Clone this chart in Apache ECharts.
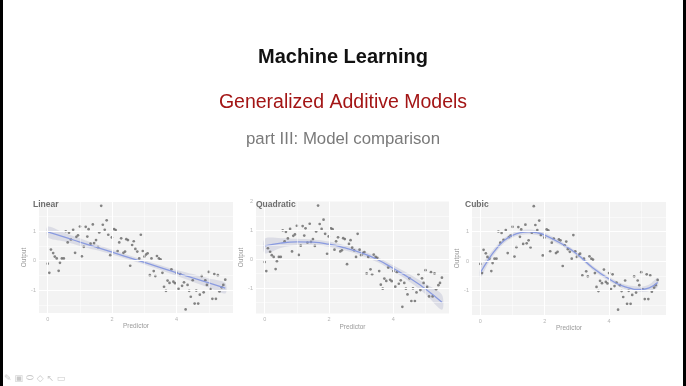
<!DOCTYPE html>
<html>
<head>
<meta charset="utf-8">
<script src="https://cdn.jsdelivr.net/npm/echarts@6/dist/echarts.min.js"></script>
<style>html,body{margin:0;padding:0;background:#fff}#c{width:686px;height:386px}</style>
</head>
<body>
<div id="c"></div>
<script>
// ---- data ----
const predictor = [0,0.05,0.10,0.17,0.22,0.28,0.34,0.38,0.44,0.50,0.56,0.62,0.66,0.72,0.79,0.85,0.89,0.94,1.00,1.06,1.12,1.18,1.23,1.27,1.33,1.40,1.44,1.50,1.56,1.60,1.66,1.71,1.77,1.83,1.88,1.94,1.99,2.06,2.11,2.17,2.22,2.28,2.35,2.40,2.44,2.49,2.56,2.62,2.67,2.72,2.78,2.84,2.89,2.95,3.00,3.05,3.10,3.17,3.22,3.29,3.34,3.39,3.45,3.50,3.56,3.61,3.67,3.72,3.78,3.84,3.90,3.95,4.00,4.06,4.11,4.17,4.23,4.28,4.34,4.39,4.44,4.50,4.56,4.61,4.67,4.72,4.78,4.84,4.89,4.94,5.00,5.05,5.11,5.17,5.22,5.28,5.33,5.40,5.45,5.51];
const output = [-0.10,-0.41,0.38,0.26,0.14,0.08,-0.34,-0.07,0.08,0.08,1.00,0.62,0.95,0.72,1.05,0.27,0.81,0.86,1.16,0.15,0.47,1.15,0.82,1.07,0.58,1.23,0.60,0.70,0.46,0.96,1.86,1.22,1.05,1.37,0.88,0.19,0.79,1.07,1.04,0.33,0.62,0.76,0.27,0.31,0.73,0.70,-0.17,0.53,0.66,0.40,0.31,0.08,0.88,0.33,0.14,0.21,0.25,-0.49,0.08,-0.35,-0.52,0.16,0.08,0.05,-0.41,-0.88,-1.02,-0.67,-0.75,-0.29,-0.71,-0.76,-0.41,-0.95,-0.45,-0.85,-0.73,-1.65,-0.82,-1.02,-1.22,-0.66,-1.45,-1.01,-1.45,-1.15,-0.52,-1.07,-0.66,-0.82,-0.38,-0.96,-1.29,-0.45,-1.29,-0.49,-1.04,-0.90,-0.82,-0.64];

const linX   = [0,0.5,1,1.5,2,2.75,3.5,4,4.5,5,5.51];
const linFit = [0.98,0.81,0.63,0.46,0.29,0.03,-0.23,-0.41,-0.58,-0.75,-0.93];
const linLo  = [0.80,0.66,0.50,0.36,0.21,-0.04,-0.31,-0.51,-0.71,-0.91,-1.11];
const linHi  = [1.16,0.96,0.76,0.56,0.37,0.10,-0.15,-0.31,-0.45,-0.60,-0.75];

const quadX   = [0,0.5,1,1.5,2,2.5,3,3.5,4,4.5,5,5.51];
const quadFit = [0.46,0.56,0.60,0.59,0.52,0.39,0.22,-0.01,-0.32,-0.65,-1.03,-1.49];
const quadLo  = [0.21,0.39,0.49,0.50,0.43,0.30,0.13,-0.10,-0.42,-0.78,-1.21,-1.75];
const quadHi  = [0.71,0.73,0.71,0.68,0.61,0.48,0.31,0.08,-0.22,-0.52,-0.85,-1.23];

const cubX   = [0,0.25,0.5,0.75,1,1.25,1.5,1.75,2,2.5,3,3.5,4,4.5,5,5.25,5.51];
const cubFit = [-0.40,0.05,0.42,0.70,0.87,0.96,0.99,0.96,0.88,0.60,0.24,-0.24,-0.61,-0.88,-0.96,-0.91,-0.73];
const cubLo  = [-0.58,-0.08,0.32,0.62,0.79,0.88,0.91,0.88,0.80,0.53,0.17,-0.31,-0.68,-0.96,-1.05,-1.02,-0.88];
const cubHi  = [-0.22,0.18,0.52,0.78,0.95,1.04,1.07,1.04,0.96,0.67,0.31,-0.17,-0.54,-0.80,-0.87,-0.80,-0.58];

const panelTitles = ['Linear','Quadratic','Cubic'];
const xTicks = [0,2,4];
const yTicks = [-1,0,1];
const yTicksQuad = [-1,0,1,2];
const xMinor = [1,3,5];
const yMinor = [-1.5,-0.5,0.5,1.5];

// ---- layout ----
const panels = [
  {left:39,  top:202,   w:194, h:111, xmin:-0.27, xmax:5.75, ymin:-1.77, ymax:1.99, tx:33,  yt:yTicks, nameX:27},
  {left:256, top:201.5, w:193, h:112, xmin:-0.27, xmax:5.73, ymin:-1.88, ymax:2.0,  tx:256, yt:yTicksQuad, nameX:242},
  {left:472, top:202,   w:194, h:113, xmin:-0.26, xmax:5.77, ymin:-1.83, ymax:2.0,  tx:465, yt:yTicks, nameX:460}
];
const fits = [[linX,linFit,linLo,linHi],[quadX,quadFit,quadLo,quadHi],[cubX,cubFit,cubLo,cubHi]];

const chart = echarts.init(document.getElementById('c'), null, {renderer:'canvas'});
const grid=[], xAxis=[], yAxis=[], series=[], title=[];
const tickStyle = {color:'#b5b5b5', fontSize:5.5, fontFamily:'Liberation Sans'};

panels.forEach((p,i)=>{
  grid.push({left:p.left, top:p.top, width:p.w, height:p.h, show:true, backgroundColor:'#f3f3f3', borderWidth:0});
  xAxis.push({type:'value', gridIndex:i, min:p.xmin, max:p.xmax,
    axisLine:{show:false}, axisTick:{show:false}, splitLine:{show:false},
    axisLabel:Object.assign({show:true, margin:3, customValues:xTicks}, tickStyle),
    name:'Predictor', nameLocation:'middle', nameGap:10,
    nameTextStyle:{color:'#9a9a9a', fontSize:6.5, fontFamily:'Liberation Sans'}});
  yAxis.push({type:'value', gridIndex:i, min:p.ymin, max:p.ymax,
    axisLine:{show:false}, axisTick:{show:false}, splitLine:{show:false},
    axisLabel:Object.assign({show:true, margin:3, customValues:p.yt}, tickStyle),
    name:'Output', nameLocation:'middle', nameGap:p.left - p.nameX - 5, nameRotate:90,
    nameTextStyle:{color:'#9a9a9a', fontSize:6.5, fontFamily:'Liberation Sans'}});
  title.push({text:panelTitles[i], left:p.tx, top:200, padding:0,
    textStyle:{color:'#6e6e6e', fontSize:8.5, fontWeight:'bold', fontFamily:'Liberation Sans'}});

  // grid lines
  const ml = [];
  xTicks.forEach(v=>ml.push({xAxis:v, lineStyle:{width:1}}));
  p.yt.filter(v=>v<p.ymax).forEach(v=>ml.push({yAxis:v, lineStyle:{width:1}}));
  xMinor.forEach(v=>ml.push({xAxis:v, lineStyle:{width:0.5}}));
  yMinor.filter(v=>v>p.ymin && v<p.ymax).forEach(v=>ml.push({yAxis:v, lineStyle:{width:0.5}}));
  series.push({type:'line', xAxisIndex:i, yAxisIndex:i, data:[], z:1, silent:true,
    markLine:{silent:true, symbol:'none', label:{show:false}, animation:false,
      lineStyle:{color:'#ffffff', type:'solid'}, data:ml}});

  const [fx,fy,lo,hi] = fits[i];
  // confidence band
  series.push({type:'custom', xAxisIndex:i, yAxisIndex:i, z:2, silent:true, data:[[0,0]],
    renderItem:function(params, api){
      const pts=[];
      for(let k=0;k<fx.length;k++) pts.push(api.coord([fx[k],hi[k]]));
      for(let k=fx.length-1;k>=0;k--) pts.push(api.coord([fx[k],lo[k]]));
      return {type:'polygon', shape:{points:pts, smooth:0.3}, style:{fill:'rgba(195,198,215,0.5)'}};
    }});
  // points
  series.push({type:'scatter', xAxisIndex:i, yAxisIndex:i, z:3, symbolSize:2.7, silent:true,
    itemStyle:{color:'#666666'}, data:predictor.map((x,k)=>[x,output[k]])});
  // fit line
  series.push({type:'line', xAxisIndex:i, yAxisIndex:i, z:4, smooth:true, showSymbol:false, silent:true,
    lineStyle:{color:'#8a9be0', width:1.3}, data:fx.map((x,k)=>[x,fy[k]])});
});

title.push({text:'Machine Learning', left:'center', top:42,
  textStyle:{color:'#111', fontSize:20, fontWeight:'bold', fontFamily:'Liberation Sans'}});
title.push({text:'Generalized Additive Models', left:'center', top:88,
  textStyle:{color:'#a31515', fontSize:19.5, fontWeight:'normal', fontFamily:'Liberation Sans'}});
title.push({text:'part III: Model comparison', left:'center', top:126,
  textStyle:{color:'#7a7a7a', fontSize:16.8, fontWeight:'normal', fontFamily:'Liberation Sans'}});

chart.setOption({
  animation:false,
  backgroundColor:'#ffffff',
  title, grid, xAxis, yAxis, series,
  graphic:[
    {type:'rect', left:0, top:0, shape:{width:3, height:386}, style:{fill:'#000'}},
    {type:'rect', left:683, top:0, shape:{width:3, height:386}, style:{fill:'#000'}},
    {type:'text', left:4, top:374, style:{text:'✎ ▣ ⬭ ◇ ↖ ▭', fill:'#c8c8c8', fontSize:9, fontFamily:'DejaVu Sans'}}
  ]
});
</script>
</body>
</html>
